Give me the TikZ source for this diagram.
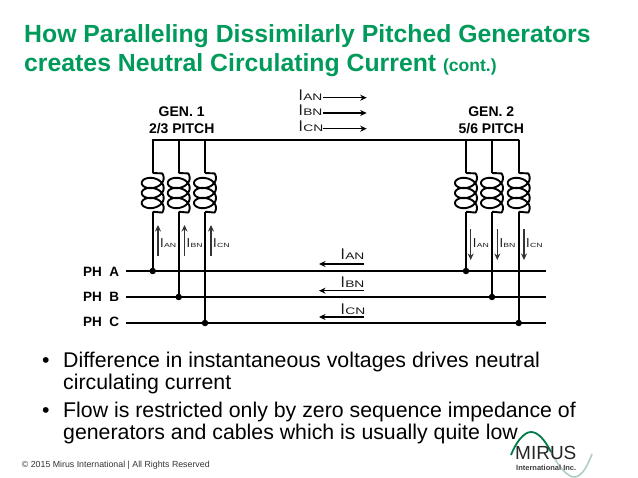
\documentclass[tikz,border=0pt]{standalone}
\usepackage{fontspec}
\usetikzlibrary{arrows.meta}
\setmainfont{Liberation Sans}
\definecolor{mirusgreen}{RGB}{0,155,90}
\definecolor{wavepale}{RGB}{175,205,195}
\newcommand{\ilabel}[3]{{\fontsize{#1}{#1}\selectfont I}\kern0.3pt{\fontsize{#2}{#2}\selectfont\scalebox{1.45}[1]{#3}}}
\tikzset{
  wire/.style={line width=1.9pt,line join=round},
  flow/.style={line width=1.2pt,-{Stealth[length=6.5pt,width=6pt]}},
  dot/.style={circle,fill=black,minimum size=6.5pt,inner sep=0pt},
  gentext/.style={font=\fontsize{14}{17}\selectfont\bfseries,align=center,anchor=base},
  phtext/.style={font=\fontsize{13.5}{14}\selectfont\bfseries,anchor=base west},
  title/.style={font=\fontsize{24.8}{25}\selectfont\bfseries,text=mirusgreen,anchor=base west,inner sep=0pt},
  body/.style={font=\fontsize{21.3}{22}\selectfont,anchor=base west,inner sep=0pt},
  lab/.style={anchor=base west,inner sep=0pt,text=black!90},
  coil/.pic={\draw[wire] (0,0) -- plot[domain=60:1200,samples=120] ({11*sin(\x)},{2.5+\x/36-7.5*cos(\x)}) -- (0,38.7);}
}
\begin{document}
\begin{tikzpicture}[x=1pt,y=-1pt]
    \useasboundingbox (0,0) rectangle (638,478);
    % title
    \node[title] (t1) at (24,42.3) {How Paralleling Dissimilarly Pitched Generators};
    \node[title] (t2) at (24,71.7) {creates Neutral Circulating Current {\fontsize{17.5}{18}\selectfont (cont.)}};

    % generator headings
    \node[gentext] (gen1) at (181.7,116.7) {GEN. 1};
    \node[gentext] (pitch1) at (181.7,133.3) {2/3 PITCH};
    \node[gentext] (gen2) at (491.3,116.7) {GEN. 2};
    \node[gentext] (pitch2) at (491.3,133.3) {5/6 PITCH};

    % phase buses
    \node[phtext,inner sep=0pt] (pha) at (83,276.7) {PH\ \ A};
    \node[phtext,inner sep=0pt] (phb) at (83,302) {PH\ \ B};
    \node[phtext,inner sep=0pt] (phc) at (83,327) {PH\ \ C};
    \coordinate (al) at (126,271);
    \coordinate (ar) at (545.6,271);
    \coordinate (bl) at (126,297);
    \coordinate (br) at (545.6,297);
    \coordinate (cl) at (126,323);
    \coordinate (cr) at (545.6,323);
    \foreach \from/\to in {al/ar,bl/br,cl/cr}
    \draw[wire] (\from) -- (\to);

    % neutral and windings
    \coordinate (ntl) at (152.7,140.3);
    \coordinate (ntr) at (518.7,140.3);
    \draw[wire,line cap=round] (ntl) -- (ntr);
    \foreach \w/\cx/\by in {w1/152.7/271,w2/178.7/297,w3/205/323,w4/466/271,w5/492/297,w6/518.7/323} {
        \coordinate (\w t) at (\cx,140.3);
        \coordinate (\w c) at (\cx,173);
        \coordinate (\w b) at (\cx,211.7);
        \node[dot] (\w d) at (\cx,\by) {};
        \draw[wire] (\w t) -- (\w c);
        \pic at (\w c) {coil};
        \draw[wire] (\w b) -- (\w d);
    }

    % currents at the generators
    \foreach \n/\cx/\txt in {a/158/AN,b/184.5/BN,c/211/CN} {
        \coordinate (u\n s) at (\cx,255.7);
        \coordinate (u\n e) at (\cx,225);
        \draw[flow,black!80] (u\n s) -- (u\n e);
        \node[lab] (ul\n) at (\cx+2,248) {\ilabel{13}{6}{\txt}};
    }
    \foreach \n/\cx/\txt in {a/470.7/AN,b/497.3/BN,c/524/CN} {
        \coordinate (d\n s) at (\cx,229);
        \coordinate (d\n e) at (\cx,260);
        \draw[flow,black!80] (d\n s) -- (d\n e);
        \node[lab] (dl\n) at (\cx+2,248) {\ilabel{13}{6}{\txt}};
    }

    % currents in the neutral
    \foreach \n/\yy/\txt in {a/100.7/AN,b/116/BN,c/131.7/CN} {
        \node[lab] (nl\n) at (298.5,\yy) {\ilabel{15.5}{9.5}{\txt}};
        \coordinate (ne\n) at (366.7,\yy-3);
        \draw[flow] (nl\n.base east |- ne\n) -- (ne\n);
    }

    % currents in the phases
    \foreach \n/\yy/\ay/\txt in {a/259.3/264/AN,b/287.3/290.7/BN,c/315/317/CN} {
        \node[lab] (pl\n) at (340.5,\yy) {\ilabel{15.5}{9.5}{\txt}};
        \coordinate (ps\n) at (363.5,\ay);
        \coordinate (pe\n) at (319,\ay);
        \draw[flow] (ps\n) -- (pe\n);
    }

    % bullets
    \node[body] (b1) at (42,367.7) {•};
    \node[body] (l1) at (63,367.7) {Difference in instantaneous voltages drives neutral};
    \node[body] (l2) at (63,390) {circulating current};
    \node[body] (b2) at (42,417.7) {•};
    \node[body] (l3) at (63,417.7) {Flow is restricted only by zero sequence impedance of};
    \node[body] (l4) at (63,440) {generators and cables which is usually quite low};

    % footer
    \node[anchor=base west,inner sep=0pt,font=\fontsize{8.8}{10}\selectfont,text=black!80] (foot) at (21.7,467.7) {© 2015 Mirus International | All Rights Reserved};

    % logo
    \draw[line width=1.6pt,wavepale] (551,452) .. controls (558,466) and (568,478) .. (575,477) .. controls (583,476) and (588,464) .. (592,454);
    \draw[line width=1.8pt,mirusgreen!80!black] (511,455) .. controls (516,442) and (524,432) .. (531,432) .. controls (538,432) and (545,440) .. (551,452);
    \node[anchor=base west,inner sep=0pt,font=\fontsize{19}{20}\selectfont,text=black!85] (mirus) at (515,460) {MIRUS};
    \node[anchor=base west,inner sep=0pt,font=\fontsize{7.5}{8}\selectfont\bfseries,text=black!75] (inc) at (516,471) {International Inc.};
\end{tikzpicture}
\end{document}
